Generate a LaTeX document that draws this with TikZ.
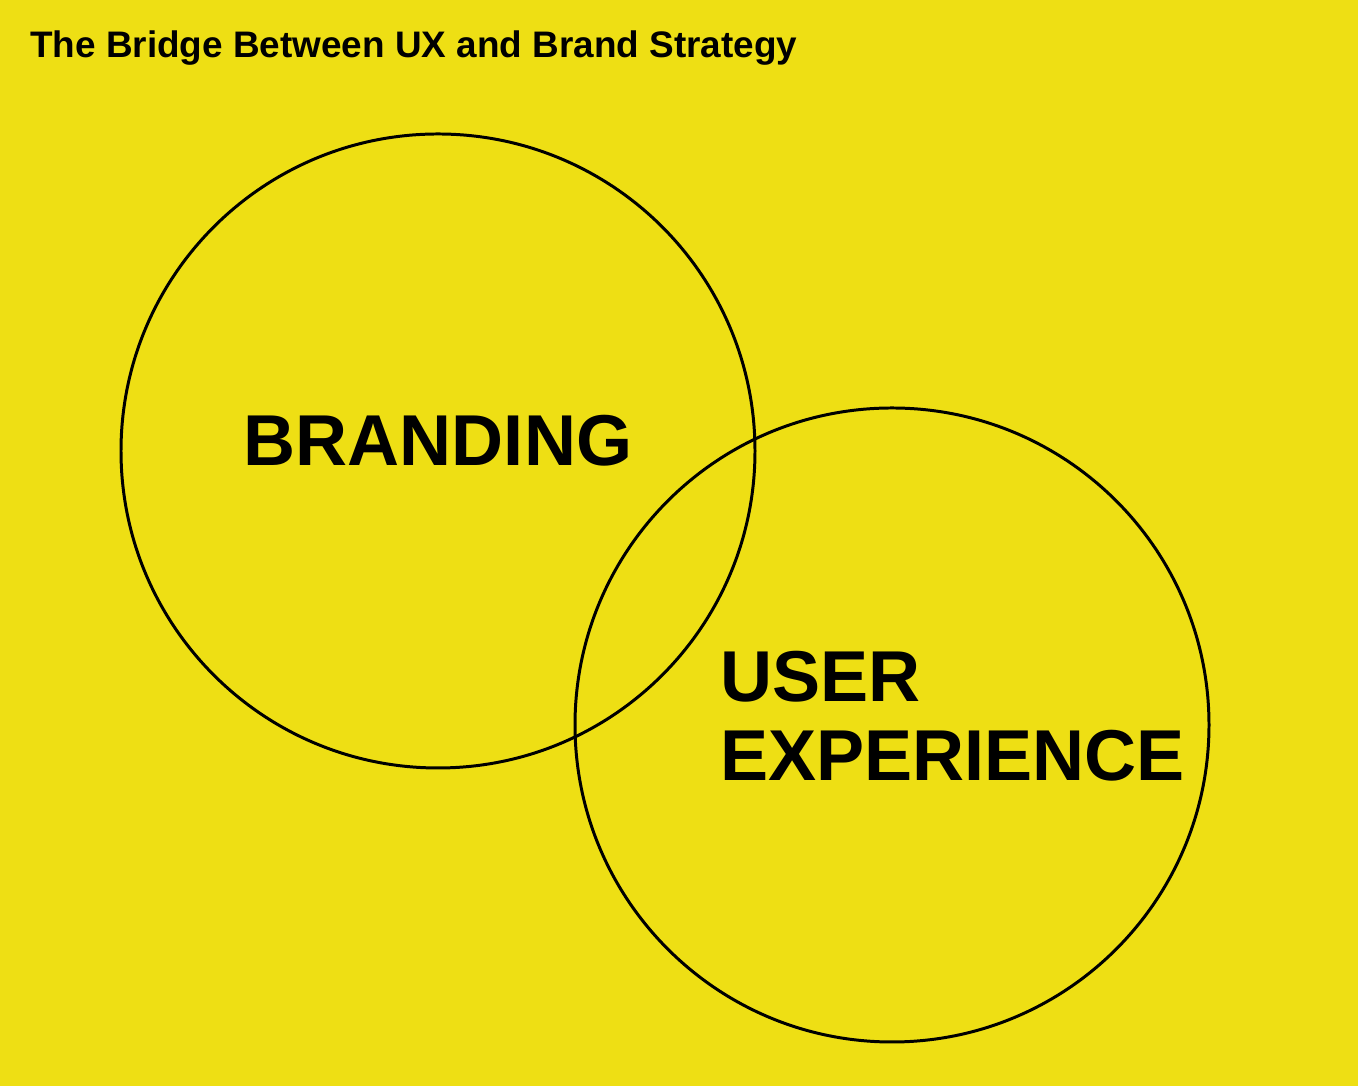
\documentclass[tikz,border=0pt]{standalone}
\usepackage{fontspec}
\setmainfont{Liberation Sans}
\usetikzlibrary{positioning}
\definecolor{bgyellow}{RGB}{238,223,20}

\begin{document}
\begin{tikzpicture}[
  ring/.style={draw=black, line width=1.7pt, circle, minimum size=12.68cm, inner sep=0pt},
  bigword/.style={font=\fontsize{41}{45}\selectfont\bfseries, inner sep=0pt}
]
% Background
\fill[bgyellow] (0,0) rectangle (27.16,21.72);
\useasboundingbox (0,0) rectangle (27.16,21.72);
% Title
\node[anchor=west, inner sep=0pt, font=\fontsize{21}{25}\selectfont\bfseries] (title) at (0.6,20.76) {The Bridge Between UX and Brand Strategy};
% Circles
\node[ring] (brandring) at (8.76,12.70) {};
\node[ring] (uxring) at (17.84,7.22) {};
% Labels
\node[bigword] (branding) at (8.76,12.9) {BRANDING};
\node[bigword, anchor=west, align=left] (ux) at (14.4,7.4) {USER\\EXPERIENCE};
\end{tikzpicture}
\end{document}
